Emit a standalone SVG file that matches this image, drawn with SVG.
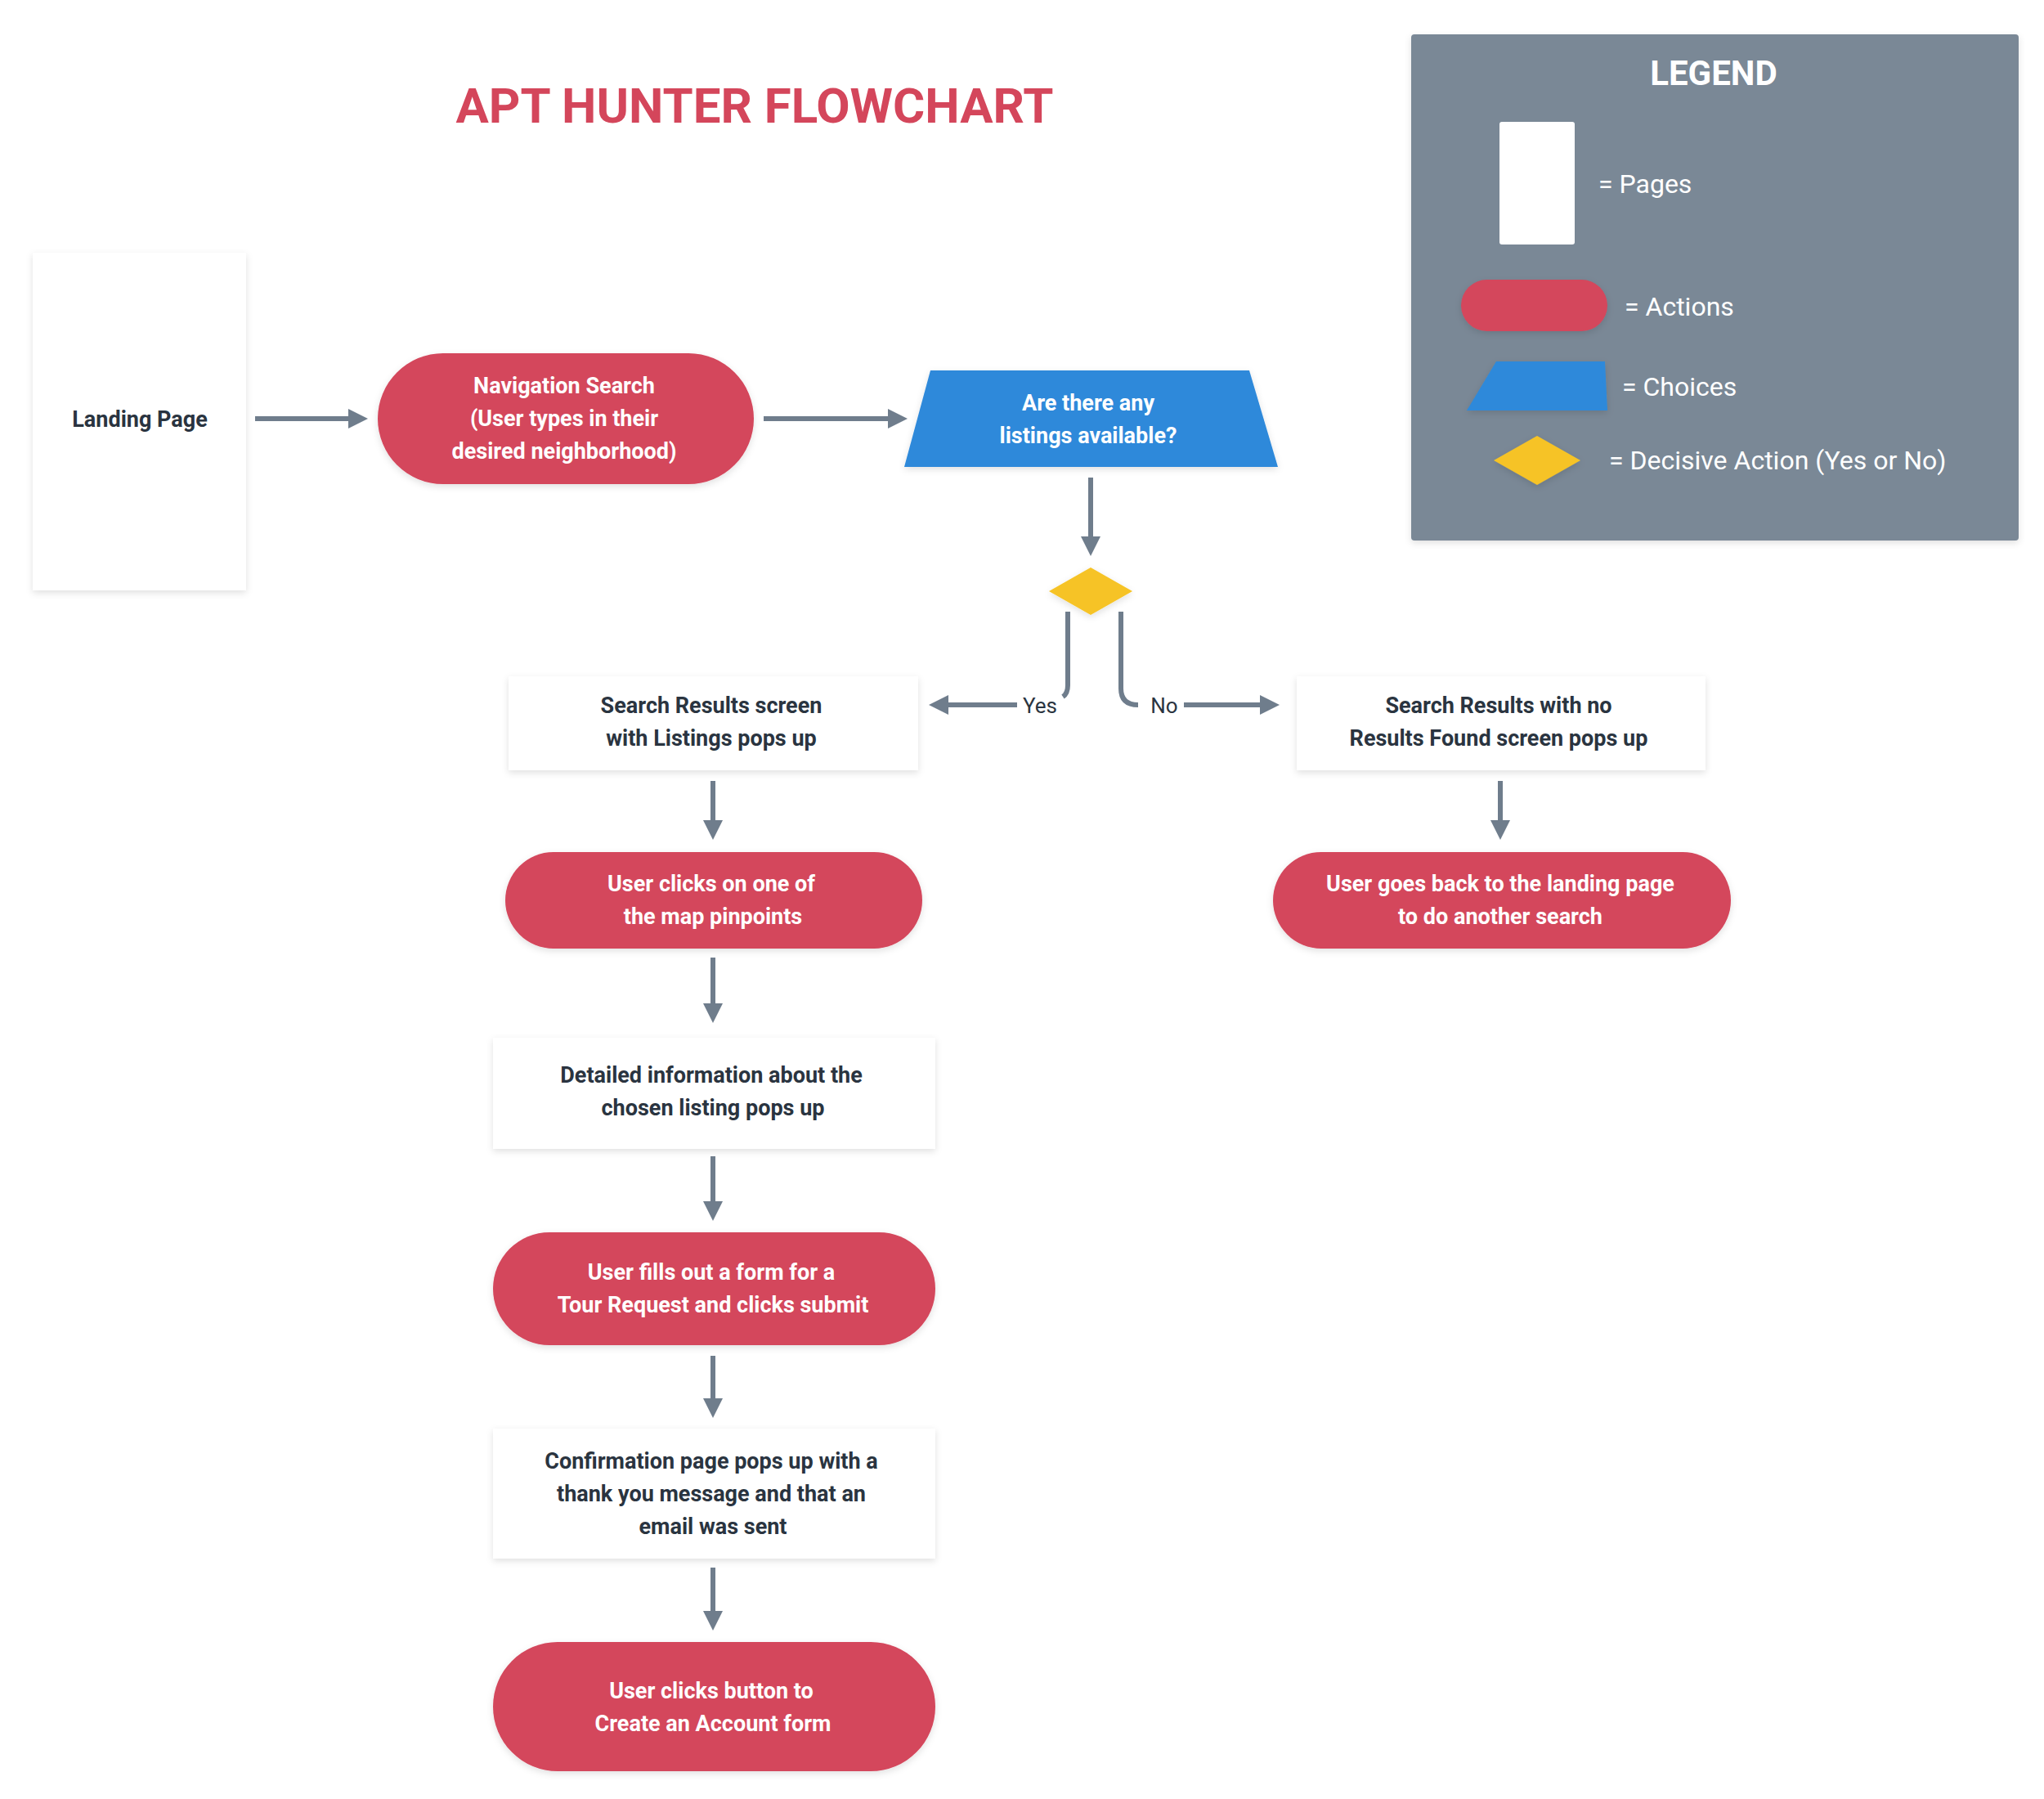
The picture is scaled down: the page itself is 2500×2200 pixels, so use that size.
<svg xmlns="http://www.w3.org/2000/svg" width="2500" height="2200" viewBox="0 0 2500 2200">
<defs>
<filter id="sh" x="-10%" y="-10%" width="120%" height="130%"><feDropShadow dx="0" dy="3" stdDeviation="4" flood-color="#000" flood-opacity="0.12"/></filter>
<marker id="ah" markerWidth="4" markerHeight="4" refX="3" refY="2" orient="auto" markerUnits="strokeWidth"><path d="M0,0 L4,2 L0,4 Z" fill="#6F7D8C"/></marker>
</defs>
<style>
text{font-family:Roboto,"Liberation Sans",sans-serif;text-anchor:middle}
.t{font-size:27px;font-weight:bold;fill:#2A3440}
.w{font-size:27px;font-weight:bold;fill:#fff}
.page{fill:#fff;filter:url(#sh)}
.act{fill:#D4465B;filter:url(#sh)}
.ch{fill:#2E89DA;filter:url(#sh)}
.dm{fill:#F6C325;filter:url(#sh)}
.c{stroke:#6F7D8C;stroke-width:6;fill:none;marker-end:url(#ah)}
.cn{stroke:#6F7D8C;stroke-width:6;fill:none}
.lg{font-size:32px;fill:#fff;text-anchor:start}
.lbl{font-size:26px;fill:#2A3440}
</style>
<rect width="2500" height="2200" fill="#fff"/>
<text x="923" y="150" style="font-size:60px;font-weight:bold;fill:#D4465B">APT HUNTER FLOWCHART</text>
<g id="legend">
<rect x="1726" y="42" width="743" height="619" rx="4" fill="#7A8896" filter="url(#sh)"/>
<text x="2096" y="104" style="font-size:42px;font-weight:bold;fill:#fff">LEGEND</text>
<rect x="1834" y="149" width="92" height="150" rx="3" fill="#fff"/>
<text x="1955" y="236" class="lg">=  Pages</text>
<rect x="1787" y="342" width="179" height="63" rx="31.5" class="act"/>
<text x="1987" y="386" class="lg">=  Actions</text>
<path d="M1830,442 L1963,442 L1966,502 L1794,502 Z" class="ch"/>
<path d="M1836,442 L1957,442 L1966,502 L1794,502 Z" fill="#2E89DA"/>
<text x="1984" y="484" class="lg">=  Choices</text>
<path d="M1880,533 L1933,563 L1880,593 L1827,563 Z" class="dm"/>
<text x="1968" y="574" class="lg">=  Decisive Action (Yes or No)</text>
</g>
<g id="landing"><rect x="40" y="309" width="261" height="413" class="page"/><text x="171" y="522" class="t">Landing Page</text></g>
<g id="nav"><rect x="462" y="432" width="460" height="160" rx="80" class="act"/><text class="w" x="690"><tspan x="690" y="481">Navigation Search</tspan><tspan x="690" y="521">(User types in their</tspan><tspan x="690" y="561">desired neighborhood)</tspan></text></g>
<g id="choice"><path d="M1138,453 L1528,453 L1563,571 L1106,571 Z" class="ch"/><text class="w"><tspan x="1331" y="502">Are there any</tspan><tspan x="1331" y="542">listings available?</tspan></text></g>
<g id="decision"><path d="M1334,694 L1385,723 L1334,752 L1283,723 Z" class="dm"/></g>
<g id="results"><rect x="622" y="827" width="501" height="115" class="page"/><text class="t"><tspan x="870" y="872">Search Results screen</tspan><tspan x="870" y="912">with Listings pops up</tspan></text></g>
<g id="noresults"><rect x="1586" y="827" width="500" height="115" class="page"/><text class="t"><tspan x="1833" y="872">Search Results with no</tspan><tspan x="1833" y="912">Results Found screen pops up</tspan></text></g>
<g id="pinpoint"><rect x="618" y="1042" width="510" height="118" rx="59" class="act"/><text class="w"><tspan x="870" y="1090">User clicks on one of</tspan><tspan x="872" y="1130">the map pinpoints</tspan></text></g>
<g id="goback"><rect x="1557" y="1042" width="560" height="118" rx="59" class="act"/><text class="w"><tspan x="1835" y="1090">User goes back to the landing page</tspan><tspan x="1835" y="1130">to do another search</tspan></text></g>
<g id="detail"><rect x="603" y="1269" width="541" height="136" class="page"/><text class="t"><tspan x="870" y="1324">Detailed information about the</tspan><tspan x="872" y="1364">chosen listing pops up</tspan></text></g>
<g id="form"><rect x="603" y="1507" width="541" height="138" rx="69" class="act"/><text class="w"><tspan x="870" y="1565">User fills out a form for a</tspan><tspan x="872" y="1605">Tour Request and clicks submit</tspan></text></g>
<g id="confirm"><rect x="603" y="1747" width="541" height="159" class="page"/><text class="t"><tspan x="870" y="1796">Confirmation page pops up with a</tspan><tspan x="870" y="1836">thank you message and that an</tspan><tspan x="872" y="1876">email was sent</tspan></text></g>
<g id="account"><rect x="603" y="2008" width="541" height="158" rx="79" class="act"/><text class="w"><tspan x="870" y="2077">User clicks button to</tspan><tspan x="872" y="2117">Create an Account form</tspan></text></g>
<g id="connectors">
<line x1="312" y1="512" x2="444" y2="512" class="c"/>
<line x1="934" y1="512" x2="1104" y2="512" class="c"/>
<line x1="1334" y1="584" x2="1334" y2="674" class="c"/>
<path d="M1306,748 L1306,838 Q1306,848 1300,852" class="cn"/>
<line x1="1244" y1="862" x2="1142" y2="862" class="c"/>
<text x="1272" y="872" class="lbl">Yes</text>
<path d="M1371,748 L1371,842 Q1371,862 1392,862" class="cn"/>
<text x="1424" y="872" class="lbl">No</text>
<line x1="1448" y1="862" x2="1559" y2="862" class="c"/>
<line x1="872" y1="955" x2="872" y2="1021" class="c"/>
<line x1="1835" y1="955" x2="1835" y2="1021" class="c"/>
<line x1="872" y1="1171" x2="872" y2="1245" class="c"/>
<line x1="872" y1="1414" x2="872" y2="1487" class="c"/>
<line x1="872" y1="1658" x2="872" y2="1728" class="c"/>
<line x1="872" y1="1917" x2="872" y2="1988" class="c"/>
</g>
</svg>
